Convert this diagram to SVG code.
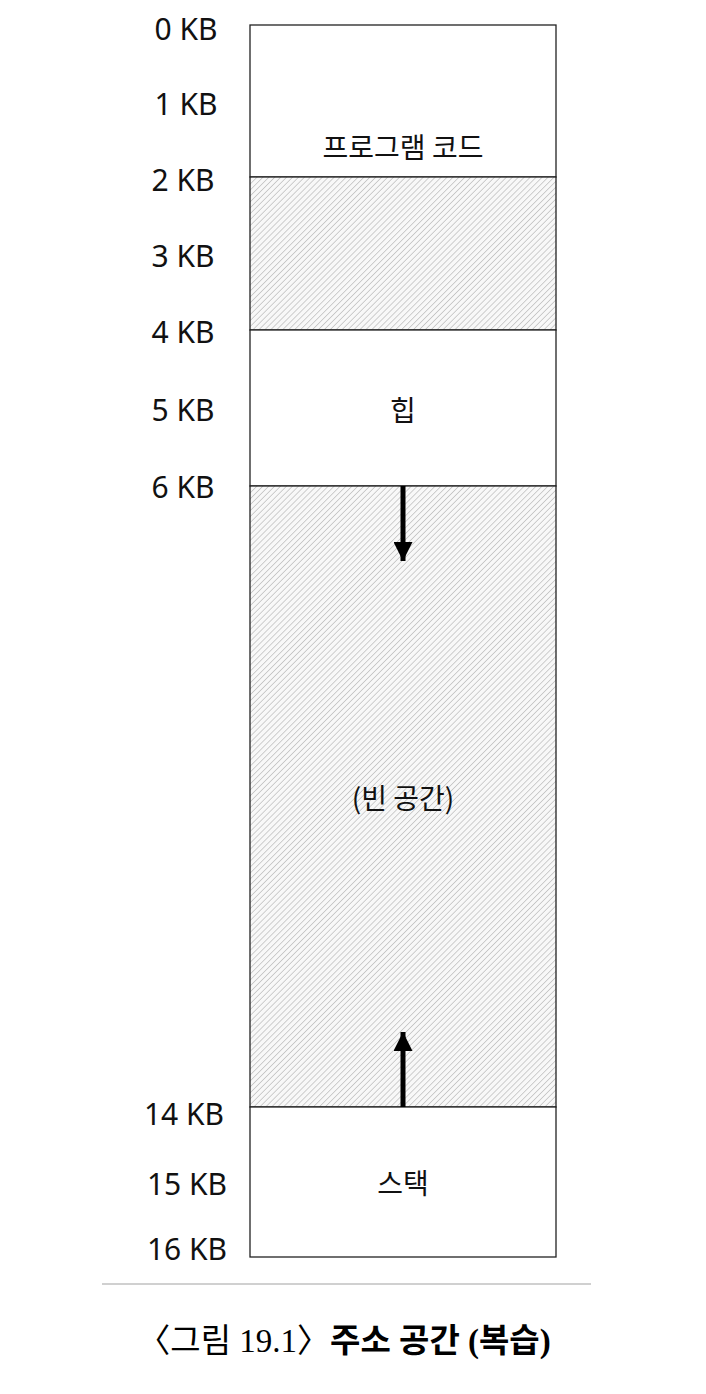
<svg xmlns="http://www.w3.org/2000/svg" width="706" height="1394" viewBox="0 0 706 1394">
<style>
.lbl{font-family:"Noto Sans","Noto Sans CJK KR",sans-serif;font-size:30px;fill:#111;text-anchor:middle}
.seg{font-family:"Noto Sans CJK KR","Noto Sans",sans-serif;font-size:28px;fill:#111;text-anchor:middle}
.box{stroke:#222;stroke-width:1.3;fill:#fff}
.free{stroke:#222;stroke-width:1.3;fill:url(#hatch)}
.cap{font-family:"Liberation Serif","Noto Sans CJK KR",serif;font-size:33px;fill:#000;text-anchor:middle}
</style>
<defs>
<pattern id="hatch" patternUnits="userSpaceOnUse" width="4.2" height="4.2" patternTransform="rotate(45)">
<rect width="4.2" height="4.2" fill="#f8f8f8"/>
<line x1="0" y1="0" x2="0" y2="4.2" stroke="#c4c4c4" stroke-width="1.6"/>
</pattern>
<marker id="ah" viewBox="0 0 10 10" refX="10" refY="5" markerWidth="4" markerHeight="3.8" markerUnits="strokeWidth" orient="auto">
<path d="M0,0 L10,5 L0,10 Z" fill="#000"/>
</marker>
</defs>
<rect width="706" height="1394" fill="#fff"/>
<g id="labels">
<text class="lbl" x="186" y="40">0 KB</text>
<text class="lbl" x="186" y="115">1 KB</text>
<text class="lbl" x="183" y="191">2 KB</text>
<text class="lbl" x="183" y="267">3 KB</text>
<text class="lbl" x="183" y="343">4 KB</text>
<text class="lbl" x="183" y="421">5 KB</text>
<text class="lbl" x="183" y="498">6 KB</text>
<text class="lbl" x="184" y="1125">14 KB</text>
<text class="lbl" x="187" y="1195">15 KB</text>
<text class="lbl" x="187" y="1260">16 KB</text>
</g>
<g id="code">
<rect class="box" x="250" y="25" width="306" height="152"/>
<text class="seg" x="403" y="158">프로그램 코드</text>
</g>
<g id="free1">
<rect class="free" x="250" y="177" width="306" height="153"/>
</g>
<g id="heap">
<rect class="box" x="250" y="330" width="306" height="156"/>
<text class="seg" x="403" y="421">힙</text>
</g>
<g id="free2">
<rect class="free" x="250" y="486" width="306" height="621"/>
<text class="seg" x="403" y="809">(빈 공간)</text>
</g>
<g id="stack">
<rect class="box" x="250" y="1107" width="306" height="150"/>
<text class="seg" x="403" y="1194">스택</text>
</g>
<g id="connectors">
<line x1="403" y1="486" x2="403" y2="561" stroke="#000" stroke-width="5" marker-end="url(#ah)"/>
<line x1="403" y1="1107" x2="403" y2="1032" stroke="#000" stroke-width="5" marker-end="url(#ah)"/>
</g>
<g id="caption">
<line x1="102" y1="1284" x2="591" y2="1284" stroke="#c0c0c0" stroke-width="1.3"/>
<text class="cap" x="344" y="1352">〈그림 19.1〉<tspan font-weight="bold">주소 공간 (복습)</tspan></text>
</g>
</svg>
